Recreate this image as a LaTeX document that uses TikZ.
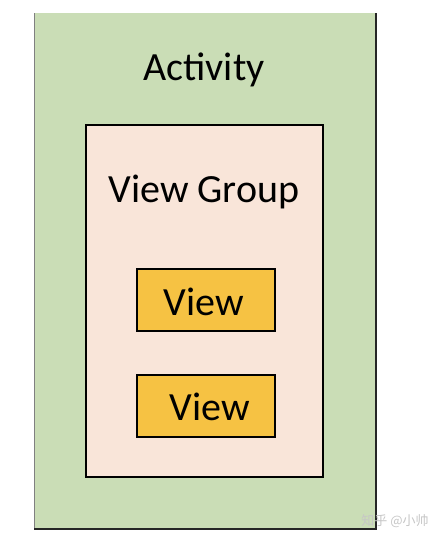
\documentclass[tikz,border=0pt]{standalone}
\usepackage{fontspec}
\setmainfont{Carlito}
\newfontfamily\cjk{Noto Sans CJK SC}
\definecolor{actgreen}{RGB}{202,221,182}
\definecolor{grouppink}{RGB}{249,229,217}
\definecolor{vieworange}{RGB}{246,194,67}
\tikzset{
	label text/.style={font=\fontsize{40}{42}\selectfont, inner sep=0pt}
	}

\begin{document}
\begin{tikzpicture}[x=1pt, y=-1pt]

	% page frame
	\useasboundingbox (0,0) rectangle (442,542);

	% activity
	\fill[actgreen] (34,13) rectangle (376,529);
	\draw[gray, line width=0.8pt] (34,13) -- (34,529);
	\draw[black!85, line width=2pt] (376,13) -- (376,529) -- (34,529);
	\node[label text] (activity) at (204,70) {Activity};

	% view group
	\draw[line width=1.2pt, fill=grouppink] (86,125) rectangle (323,477);
	\node[label text] (viewgroup) at (204,192) {View Group};

	% views
	\draw[line width=1.2pt, fill=vieworange] (137,269) rectangle (275,331);
	\node[label text] (viewa) at (204,302) {View};
	\draw[line width=1.2pt, fill=vieworange] (137,375) rectangle (275,437);
	\node[label text] (viewb) at (210,407) {View};

	% watermark
	\node[font=\cjk\fontsize{13}{14}\selectfont, text=gray!45] (mark) at (395,521) {知乎 @小帅};

\end{tikzpicture}
\end{document}
